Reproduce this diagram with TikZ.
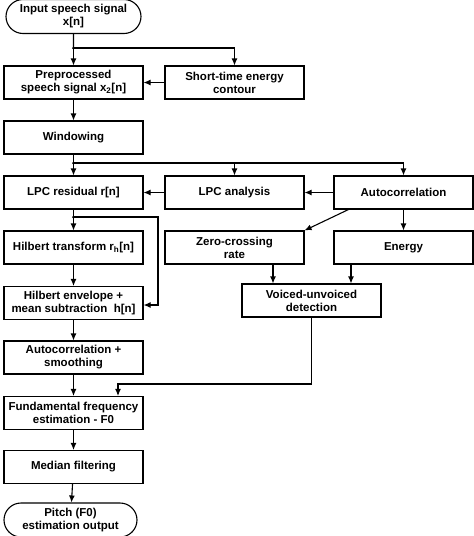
\documentclass[tikz,border=0pt]{standalone}
\usepackage{fontspec}
\setmainfont{Liberation Sans}
\usetikzlibrary{arrows.meta,shapes.misc}

\begin{document}
\begin{tikzpicture} [x=1pt,y=-1pt,line width=1.1pt,
	every node/.style={align=center,font=\bfseries\fontsize{11.5}{13}\selectfont},
	block/.style={draw,minimum width=139pt,minimum height=33pt,inner sep=2pt},
	terminal/.style={draw,rounded rectangle,minimum width=139pt,minimum height=34pt,inner sep=2pt},
	arr/.style={-{Latex[length=7pt,width=6pt]}},
	junction/.style={circle,fill,inner sep=0pt,minimum size=3pt}]
	\useasboundingbox (0,0) rectangle (474,536);
	% left column
	\node[terminal] (input) at (73.5,16.5) {Input speech signal\\x[n]};
	\node[block] (pre) at (73.5,82.5) {Preprocessed\\speech signal x\textsubscript{2}[n]};
	\node[block] (win) at (73.5,137.5) {Windowing};
	\node[block] (lpcres) at (73.5,192.5) {LPC residual r[n]};
	\node[block] (hilb) at (73.5,247.5) {Hilbert transform r\textsubscript{h}[n]};
	\node[block] (env) at (73.5,303) {Hilbert envelope +\\mean subtraction~~h[n]};
	\node[block] (acs) at (73.5,357.5) {Autocorrelation +\\smoothing};
	\node[block] (f0) at (73.5,413) {Fundamental frequency\\estimation - F0};
	\node[block] (med) at (73.5,467) {Median filtering};
	\node[terminal,minimum width=137pt] (pitch) at (70.5,520) {Pitch (F0)\\estimation output};
	% middle and right columns
	\node[block] (ste) at (234.5,82.5) {Short-time energy\\contour};
	\node[block] (lpca) at (234.5,192.5) {LPC analysis};
	\node[block] (autoc) at (403.5,192.5) {Autocorrelation};
	\node[block] (zcr) at (234.5,247.5) {Zero-crossing\\rate};
	\node[block] (energy) at (403.5,247.5) {Energy};
	\node[block] (vu) at (311.5,300.5) {Voiced-unvoiced\\detection};
	% junctions and bends
	\node[junction] (s1) at (73.5,48) {};
	\node[junction] (s2) at (73.5,163) {};
	\node[junction] (s3) at (73.5,217) {};
	\coordinate (bend) at (158,305);
	\coordinate (vubend) at (118,384);
	\coordinate (zv) at (273,265);
	\coordinate (ev) at (351,265);
	% connectors
	\draw (input) -- (s1.center);
	\draw[arr] (s1.center) -- (pre);
	\draw[arr] (s1.center) -| (ste);
	\draw[arr] (ste) -- (pre);
	\draw[arr] (pre) -- (win);
	\draw (win) -- (s2.center);
	\draw[arr] (s2.center) -- (lpcres);
	\draw[arr] (s2.center) -| (lpca);
	\draw[arr] (s2.center) -| (autoc);
	\draw[arr] (autoc) -- (lpca);
	\draw[arr] (lpca) -- (lpcres);
	\draw (lpcres) -- (s3.center);
	\draw[arr] (s3.center) -- (hilb);
	\draw[arr] (s3.center) -| (bend) -- (bend -| env.east);
	\draw[arr] (hilb) -- (env);
	\draw[arr] (env) -- (acs);
	\draw[arr] (acs) -- (f0);
	\draw[arr] (f0) -- (med);
	\draw[arr] (med) -- (pitch);
	\draw[arr] ([xshift=15pt]autoc.south west) -- (zcr.north east);
	\draw[arr] (autoc) -- (energy);
	\draw[arr] (zv |- zcr.south) -- (zv |- vu.north);
	\draw[arr] (ev |- energy.south) -- (ev |- vu.north);
	\draw[arr] (vu) |- (vubend) -- (vubend |- f0.north);
\end{tikzpicture}
\end{document}
